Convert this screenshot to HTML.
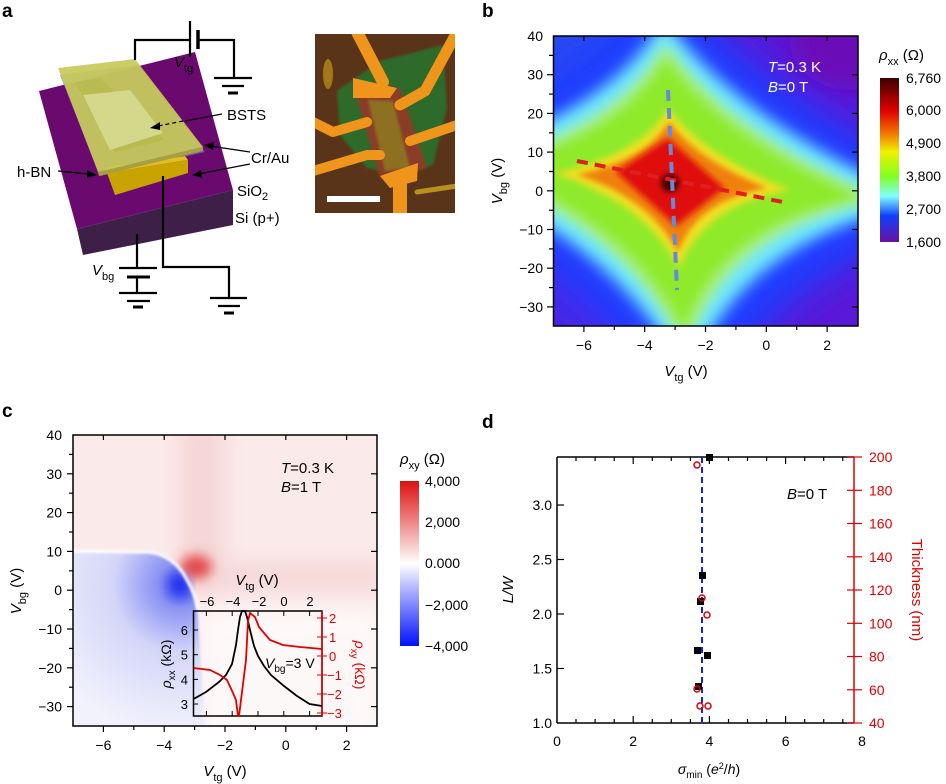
<!DOCTYPE html>
<html><head><meta charset="utf-8"><style>
html,body{margin:0;padding:0;background:#fff;}
svg{display:block;font-family:"Liberation Sans",sans-serif;}
</style></head><body>
<svg width="946" height="784" viewBox="0 0 946 784" xmlns="http://www.w3.org/2000/svg">
<defs>
<filter id="bl" x="-50%" y="-50%" width="200%" height="200%"><feGaussianBlur stdDeviation="6"/></filter>
<filter id="bl2" x="-50%" y="-50%" width="200%" height="200%"><feGaussianBlur stdDeviation="10"/></filter>
<filter id="bl3" x="-50%" y="-50%" width="200%" height="200%"><feGaussianBlur stdDeviation="3"/></filter>
<filter id="bl1" x="-50%" y="-50%" width="200%" height="200%"><feGaussianBlur stdDeviation="1.2"/></filter>
<clipPath id="cb"><rect x="553.5" y="36" width="304.5" height="290"/></clipPath>
<clipPath id="cc"><rect x="73" y="435" width="304" height="291"/></clipPath>
<clipPath id="cp"><rect x="315" y="34" width="140" height="179"/></clipPath>
<linearGradient id="gb" x1="0" y1="0" x2="0" y2="1">
<stop offset="0" stop-color="#3a0000"/><stop offset="0.2" stop-color="#e00000"/><stop offset="0.33" stop-color="#f07000"/><stop offset="0.45" stop-color="#f0f000"/><stop offset="0.6" stop-color="#80ff20"/><stop offset="0.72" stop-color="#80ffff"/><stop offset="0.84" stop-color="#1040ff"/><stop offset="1" stop-color="#6a10a0"/></linearGradient>
<linearGradient id="gc" x1="0" y1="0" x2="0" y2="1">
<stop offset="0" stop-color="#dd1010"/><stop offset="0.5" stop-color="#ffffff"/><stop offset="1" stop-color="#0010ff"/></linearGradient>
<radialGradient id="gblue" cx="180" cy="585" r="150" gradientUnits="userSpaceOnUse">
<stop offset="0" stop-color="#2a3af0"/><stop offset="0.15" stop-color="#8a92f2"/><stop offset="0.45" stop-color="#d4d6f8"/><stop offset="1" stop-color="#f2f2fc"/></radialGradient>
<path id="star" d="M -6,-130 Q 50,-45 190,18 Q 50,45 12,160 Q -45,40 -190,-12 Q -50,-45 -6,-130 Z"/>
</defs>

<!-- ================= Panel a ================= -->
<text x="2" y="17" font-size="19" font-weight="bold">a</text>
<polygon points="77,229 233,190 233,225 83,255" fill="#3e1f48"/>
<polygon points="39,91 195,52 233,190 77,229" fill="#6b0a6e"/>
<polygon points="60,75 137,65 205,152 100,176" fill="#7070d0" opacity="0.7"/>
<polygon points="107,173 188,160 188,173 115,195" fill="#c9a300"/>
<polygon points="107,173 188,160 185,156 105,168" fill="#e0c020"/>
<polygon points="58,68 135,59 203,147 98,172" fill="#c8ca58" opacity="0.92"/>
<polygon points="98,172 203,147 203,151 99,176" fill="#a8a040"/>
<polygon points="75,82 100,78 165,140 115,152 95,120" fill="#b8bb50"/>
<polygon points="83,95 130,90 163,133 110,150" fill="#d4d88a"/>
<g stroke="#000" stroke-width="2.2" fill="none">
<polyline points="135,60 135,40 189,40"/>
<line x1="190" y1="21" x2="190" y2="57"/>
<line x1="198" y1="30" x2="198" y2="49" stroke-width="3.5"/>
<polyline points="198,40 234,40 234,78"/>
<line x1="214" y1="78" x2="252" y2="78"/><line x1="222" y1="86" x2="244" y2="86"/><line x1="228" y1="93" x2="238" y2="93" stroke-width="3"/>
<line x1="137" y1="234" x2="137" y2="268"/>
<line x1="119" y1="268" x2="157" y2="268"/><line x1="127" y1="277" x2="150" y2="277" stroke-width="3"/>
<line x1="137" y1="277" x2="137" y2="293"/>
<line x1="119" y1="293" x2="157" y2="293"/><line x1="127" y1="301" x2="150" y2="301"/><line x1="133" y1="307" x2="143" y2="307" stroke-width="3"/>
<polyline points="163,176 163,267 229,267 229,298"/>
<line x1="210" y1="298" x2="247" y2="298"/><line x1="218" y1="306" x2="240" y2="306"/><line x1="224" y1="313" x2="234" y2="313" stroke-width="3"/>
<line x1="222" y1="114" x2="185" y2="121" stroke-width="1.2"/>
<line x1="183" y1="121" x2="158" y2="126" stroke-width="1.2" stroke-dasharray="4,3"/>
<line x1="250" y1="152" x2="210" y2="146" stroke-width="1.2"/>
<line x1="250" y1="164" x2="198" y2="174" stroke-width="1.2"/>
<line x1="58" y1="171" x2="88" y2="174" stroke-width="1.2"/>
</g>
<g fill="#000">
<polygon points="150,128 160,122 160,130"/>
<polygon points="204,145 214,142 213,150"/>
<polygon points="192,175 201,170 202,178"/>
<polygon points="97,175 87,170 87,178"/>
</g>
<g font-size="15">
<text x="174" y="67" font-style="italic">V<tspan font-size="11" dy="5" font-style="normal">tg</tspan></text>
<text x="227" y="120">BSTS</text>
<text x="251" y="163">Cr/Au</text>
<text x="17" y="177">h-BN</text>
<text x="237" y="196">SiO<tspan font-size="11" dy="4">2</tspan></text>
<text x="235" y="223">Si (p+)</text>
<text x="92" y="275" font-style="italic">V<tspan font-size="11" dy="5" font-style="normal">bg</tspan></text>
</g>
<g clip-path="url(#cp)">
<g transform="translate(315,34)">
<rect width="140" height="179" fill="#5a3418"/>
<polygon points="65,27 128,11 132,74 118,131 85,141 52,134 25,101 22,57" fill="#2f6a2c" filter="url(#bl1)"/>
<polygon points="38,51 85,54 112,134 65,144" fill="#8a3c28" filter="url(#bl1)"/>
<polygon points="53,66 78,67 95,134 70,137" fill="#8e7020" filter="url(#bl1)"/>
<ellipse cx="13" cy="40" rx="5" ry="15" fill="#a07818"/>
<g stroke="#f0951c" fill="none" stroke-linecap="round" stroke-linejoin="round">
<polyline points="42,-2 68,48" stroke-width="12"/>
<polyline points="142,-2 110,57 85,71" stroke-width="11"/>
<polyline points="-2,88 18,98 52,88" stroke-width="10"/>
<polyline points="95,107 142,91" stroke-width="10"/>
<polyline points="-2,137 52,121 65,121" stroke-width="10"/>
<polyline points="85,147 85,182" stroke-width="14"/>
<polyline points="102,158 142,152" stroke-width="5" stroke="#b89020"/>
</g>
<polygon points="38,44 82,54 75,64 38,64" fill="#f0951c"/>
<polygon points="65,142 103,129 102,147 75,154" fill="#f0951c"/>
<rect x="12" y="162" width="53" height="6" fill="#fff"/>
</g>
</g>

<!-- ================= Panel b ================= -->
<text x="482" y="17" font-size="19" font-weight="bold">b</text>
<g clip-path="url(#cb)">
<rect x="553.5" y="36" width="305" height="290" fill="#5a18d8"/>
<ellipse cx="590" cy="70" rx="90" ry="70" fill="#2c48f0" filter="url(#bl2)"/>
<ellipse cx="590" cy="300" rx="60" ry="40" fill="#4a28e8" filter="url(#bl2)"/>
<ellipse cx="850" cy="40" rx="60" ry="50" fill="#6a10b8" filter="url(#bl2)"/>
<g transform="translate(672,180)">
<use href="#star" transform="scale(1.8,1.65)" fill="#1a3cff" filter="url(#bl2)"/>
<use href="#star" transform="scale(1.35,1.25)" fill="#70e8ff" filter="url(#bl)"/>
<use href="#star" transform="scale(1.12,1.06)" fill="#a8f090" filter="url(#bl)"/>
<use href="#star" transform="scale(1.0,0.95)" fill="#8eea2a" filter="url(#bl)"/>
<use href="#star" transform="scale(0.62,0.55)" fill="#f0e020" filter="url(#bl)"/>
<use href="#star" transform="scale(0.5,0.45)" fill="#f08010" filter="url(#bl)"/>
<polygon points="-4,-42 52,8 4,46 -56,-8" fill="#e01010" filter="url(#bl3)"/>
<ellipse cx="-2" cy="3" rx="9" ry="9" fill="#400000" filter="url(#bl3)"/>
</g>
</g>
<line x1="577" y1="161" x2="783" y2="202" stroke="#e02020" stroke-width="4" stroke-dasharray="11,7"/>
<line x1="668" y1="90" x2="677" y2="290" stroke="#6a88d8" stroke-width="4" stroke-dasharray="11,7"/>
<rect x="553.5" y="36" width="304.5" height="290" fill="none" stroke="#000" stroke-width="1.5"/>
<g stroke="#000" stroke-width="1.2">
<line x1="583.9" y1="326" x2="583.9" y2="332"/><line x1="644.7" y1="326" x2="644.7" y2="332"/><line x1="705.5" y1="326" x2="705.5" y2="332"/><line x1="766.3" y1="326" x2="766.3" y2="332"/><line x1="827.1" y1="326" x2="827.1" y2="332"/>
<line x1="614.3" y1="326" x2="614.3" y2="330"/><line x1="675.1" y1="326" x2="675.1" y2="330"/><line x1="735.9" y1="326" x2="735.9" y2="330"/><line x1="796.7" y1="326" x2="796.7" y2="330"/>
<line x1="583.9" y1="36" x2="583.9" y2="41"/><line x1="644.7" y1="36" x2="644.7" y2="41"/><line x1="705.5" y1="36" x2="705.5" y2="41"/><line x1="766.3" y1="36" x2="766.3" y2="41"/><line x1="827.1" y1="36" x2="827.1" y2="41"/>
<line x1="547" y1="74.7" x2="553.5" y2="74.7"/><line x1="547" y1="113.4" x2="553.5" y2="113.4"/><line x1="547" y1="152.1" x2="553.5" y2="152.1"/><line x1="547" y1="190.8" x2="553.5" y2="190.8"/><line x1="547" y1="229.5" x2="553.5" y2="229.5"/><line x1="547" y1="268.2" x2="553.5" y2="268.2"/><line x1="547" y1="306.9" x2="553.5" y2="306.9"/>
<line x1="549" y1="55.4" x2="553.5" y2="55.4"/><line x1="549" y1="94.1" x2="553.5" y2="94.1"/><line x1="549" y1="132.8" x2="553.5" y2="132.8"/><line x1="549" y1="171.5" x2="553.5" y2="171.5"/><line x1="549" y1="210.2" x2="553.5" y2="210.2"/><line x1="549" y1="248.9" x2="553.5" y2="248.9"/><line x1="549" y1="287.6" x2="553.5" y2="287.6"/>
<line x1="852" y1="74.7" x2="858" y2="74.7"/><line x1="852" y1="113.4" x2="858" y2="113.4"/><line x1="852" y1="152.1" x2="858" y2="152.1"/><line x1="852" y1="190.8" x2="858" y2="190.8"/><line x1="852" y1="229.5" x2="858" y2="229.5"/><line x1="852" y1="268.2" x2="858" y2="268.2"/><line x1="852" y1="306.9" x2="858" y2="306.9"/>
</g>
<g font-size="14" text-anchor="middle">
<text x="583.9" y="350">−6</text><text x="644.7" y="350">−4</text><text x="705.5" y="350">−2</text><text x="766.3" y="350">0</text><text x="827.1" y="350">2</text>
</g>
<g font-size="14" text-anchor="end">
<text x="543" y="41">40</text><text x="543" y="79.7">30</text><text x="543" y="118.4">20</text><text x="543" y="157.1">10</text><text x="543" y="195.8">0</text><text x="543" y="234.5">−10</text><text x="543" y="273.2">−20</text><text x="543" y="311.9">−30</text>
</g>
<text x="686" y="376" font-size="15" text-anchor="middle"><tspan font-style="italic">V</tspan><tspan font-size="11" dy="5">tg</tspan><tspan dy="-5"> (V)</tspan></text>
<text transform="translate(502,181) rotate(-90)" font-size="15" text-anchor="middle"><tspan font-style="italic">V</tspan><tspan font-size="11" dy="5">bg</tspan><tspan dy="-5"> (V)</tspan></text>
<g font-size="15" fill="#fff"><text x="768" y="72"><tspan font-style="italic">T</tspan>=0.3 K</text><text x="768" y="92"><tspan font-style="italic">B</tspan>=0 T</text></g>
<rect x="880" y="78" width="19" height="164" fill="url(#gb)"/>
<text x="879" y="60" font-size="15"><tspan font-style="italic">ρ</tspan><tspan font-size="11" dy="5">xx</tspan><tspan dy="-5"> (Ω)</tspan></text>
<g font-size="14"><text x="906" y="83">6,760</text><text x="906" y="115">6,000</text><text x="906" y="148">4,900</text><text x="906" y="181">3,800</text><text x="906" y="214">2,700</text><text x="906" y="247">1,600</text></g>

<!-- ================= Panel c ================= -->
<text x="2" y="417" font-size="19" font-weight="bold">c</text>
<g clip-path="url(#cc)">
<rect x="73" y="435" width="304" height="291" fill="#fbeaea"/>
<rect x="200" y="610" width="180" height="130" fill="#fff" opacity="0.7" filter="url(#bl2)"/>
<rect x="180" y="420" width="45" height="170" fill="#f6d6d6" filter="url(#bl2)"/>
<rect x="195" y="562" width="190" height="28" fill="#f6d8d8" filter="url(#bl2)"/>
<ellipse cx="196" cy="567" rx="16" ry="12" fill="#e24a4a" filter="url(#bl)"/>
<path d="M 73,551 L 150,552 Q 175,556 187,580 Q 196,595 198,620 L 205,730 L 73,730 Z" fill="url(#gblue)" filter="url(#bl1)"/>
<ellipse cx="180" cy="585" rx="8" ry="10" fill="#2030f0" filter="url(#bl)"/>
<path d="M 73,551 L 150,552 Q 175,556 187,580 Q 196,595 198,610" fill="none" stroke="#fff" stroke-width="3" filter="url(#bl1)"/>
</g>
<rect x="73" y="435" width="304" height="291" fill="none" stroke="#000" stroke-width="1.5"/>
<g stroke="#000" stroke-width="1.2">
<line x1="103.4" y1="726" x2="103.4" y2="732"/><line x1="164.2" y1="726" x2="164.2" y2="732"/><line x1="225" y1="726" x2="225" y2="732"/><line x1="285.8" y1="726" x2="285.8" y2="732"/><line x1="346.6" y1="726" x2="346.6" y2="732"/>
<line x1="133.8" y1="726" x2="133.8" y2="730"/><line x1="194.6" y1="726" x2="194.6" y2="730"/><line x1="255.4" y1="726" x2="255.4" y2="730"/><line x1="316.2" y1="726" x2="316.2" y2="730"/>
<line x1="103.4" y1="435" x2="103.4" y2="440"/><line x1="164.2" y1="435" x2="164.2" y2="440"/><line x1="225" y1="435" x2="225" y2="440"/><line x1="285.8" y1="435" x2="285.8" y2="440"/><line x1="346.6" y1="435" x2="346.6" y2="440"/>
<line x1="67" y1="473.8" x2="73" y2="473.8"/><line x1="67" y1="512.6" x2="73" y2="512.6"/><line x1="67" y1="551.4" x2="73" y2="551.4"/><line x1="67" y1="590.2" x2="73" y2="590.2"/><line x1="67" y1="629" x2="73" y2="629"/><line x1="67" y1="667.8" x2="73" y2="667.8"/><line x1="67" y1="706.6" x2="73" y2="706.6"/>
<line x1="69" y1="454.4" x2="73" y2="454.4"/><line x1="69" y1="493.2" x2="73" y2="493.2"/><line x1="69" y1="532" x2="73" y2="532"/><line x1="69" y1="570.8" x2="73" y2="570.8"/><line x1="69" y1="609.6" x2="73" y2="609.6"/><line x1="69" y1="648.4" x2="73" y2="648.4"/><line x1="69" y1="687.2" x2="73" y2="687.2"/>
<line x1="371" y1="473.8" x2="377" y2="473.8"/><line x1="371" y1="512.6" x2="377" y2="512.6"/><line x1="371" y1="551.4" x2="377" y2="551.4"/><line x1="371" y1="590.2" x2="377" y2="590.2"/><line x1="371" y1="629" x2="377" y2="629"/><line x1="371" y1="667.8" x2="377" y2="667.8"/><line x1="371" y1="706.6" x2="377" y2="706.6"/>
</g>
<g font-size="14" text-anchor="middle">
<text x="103.4" y="750">−6</text><text x="164.2" y="750">−4</text><text x="225" y="750">−2</text><text x="285.8" y="750">0</text><text x="346.6" y="750">2</text>
</g>
<g font-size="14" text-anchor="end">
<text x="62" y="440">40</text><text x="62" y="478.8">30</text><text x="62" y="517.6">20</text><text x="62" y="556.4">10</text><text x="62" y="595.2">0</text><text x="62" y="634">−10</text><text x="62" y="672.8">−20</text><text x="62" y="711.6">−30</text>
</g>
<text x="225" y="776" font-size="15" text-anchor="middle"><tspan font-style="italic">V</tspan><tspan font-size="11" dy="5">tg</tspan><tspan dy="-5"> (V)</tspan></text>
<text transform="translate(21,591) rotate(-90)" font-size="15" text-anchor="middle"><tspan font-style="italic">V</tspan><tspan font-size="11" dy="5">bg</tspan><tspan dy="-5"> (V)</tspan></text>
<g font-size="15"><text x="281" y="473"><tspan font-style="italic">T</tspan>=0.3 K</text><text x="281" y="492"><tspan font-style="italic">B</tspan>=1 T</text></g>
<rect x="400" y="481" width="19" height="165" fill="url(#gc)"/>
<text x="400" y="464" font-size="15"><tspan font-style="italic">ρ</tspan><tspan font-size="11" dy="5">xy</tspan><tspan dy="-5"> (Ω)</tspan></text>
<g font-size="14"><text x="425" y="486">4,000</text><text x="425" y="527">2,000</text><text x="425" y="568">0.000</text><text x="425" y="610">−2,000</text><text x="425" y="651">−4,000</text></g>
<rect x="193.5" y="611" width="128.5" height="105" fill="none" stroke="#000" stroke-width="1.5"/>
<g stroke="#000" stroke-width="1">
<line x1="206.4" y1="611" x2="206.4" y2="616"/><line x1="232.2" y1="611" x2="232.2" y2="616"/><line x1="258" y1="611" x2="258" y2="616"/><line x1="283.8" y1="611" x2="283.8" y2="616"/><line x1="309.6" y1="611" x2="309.6" y2="616"/>
<line x1="206.4" y1="716" x2="206.4" y2="711"/><line x1="232.2" y1="716" x2="232.2" y2="711"/><line x1="258" y1="716" x2="258" y2="711"/><line x1="283.8" y1="716" x2="283.8" y2="711"/><line x1="309.6" y1="716" x2="309.6" y2="711"/>
<line x1="193.5" y1="630" x2="198" y2="630"/><line x1="193.5" y1="654.7" x2="198" y2="654.7"/><line x1="193.5" y1="679.4" x2="198" y2="679.4"/><line x1="193.5" y1="704" x2="198" y2="704"/>
</g>
<line x1="322" y1="611" x2="322" y2="716" stroke="#e00000" stroke-width="1.5"/>
<g stroke="#e00000" stroke-width="1">
<line x1="317" y1="618" x2="327" y2="618"/><line x1="317" y1="637" x2="327" y2="637"/><line x1="317" y1="656" x2="327" y2="656"/><line x1="317" y1="675" x2="327" y2="675"/><line x1="317" y1="694" x2="327" y2="694"/><line x1="317" y1="713" x2="327" y2="713"/>
</g>
<polyline fill="none" stroke="#000" stroke-width="1.8" points="193.5,699 206,692 219,682 226,675 232,664 236,645 238,630 240,617 242,611 245,611 247,617 250,630 254,646 258,656 264,666 271,675 284,686 297,696 309.6,704 322,706"/>
<polyline fill="none" stroke="#e00000" stroke-width="1.8" points="193.5,668 210,670 220,675 227,680 233,693 236,700 238,716 239,716 241,700 246,660 248,621 250,613 255,617 259,627 264,633 270,640 283,645 300,647 322,649"/>
<g font-size="13" text-anchor="middle">
<text x="207" y="606">−6</text><text x="233" y="606">−4</text><text x="259" y="606">−2</text><text x="284" y="606">0</text><text x="310" y="606">2</text>
</g>
<text x="257" y="585" font-size="15" text-anchor="middle"><tspan font-style="italic">V</tspan><tspan font-size="11" dy="5">tg</tspan><tspan dy="-5"> (V)</tspan></text>
<g font-size="13" text-anchor="end"><text x="188" y="635">6</text><text x="188" y="659.7">5</text><text x="188" y="684.4">4</text><text x="188" y="709">3</text></g>
<g font-size="13" fill="#e00000"><text x="329" y="623">2</text><text x="329" y="642">1</text><text x="329" y="661">0</text><text x="327" y="680">−1</text><text x="327" y="699">−2</text><text x="327" y="718">−3</text></g>
<text transform="translate(171,664) rotate(-90)" font-size="14" text-anchor="middle"><tspan font-style="italic">ρ</tspan><tspan font-size="10" dy="4">xx</tspan><tspan dy="-4"> (kΩ)</tspan></text>
<text transform="translate(355,665) rotate(90)" font-size="14" text-anchor="middle" fill="#e00000"><tspan font-style="italic">ρ</tspan><tspan font-size="10" dy="4">xy</tspan><tspan dy="-4"> (kΩ)</tspan></text>
<text x="265" y="668" font-size="14"><tspan font-style="italic">V</tspan><tspan font-size="10" dy="4">bg</tspan><tspan dy="-4">=3 V</tspan></text>

<!-- ================= Panel d ================= -->
<text x="482" y="428" font-size="19" font-weight="bold">d</text>
<g stroke="#000" stroke-width="1.5" fill="none">
<line x1="557" y1="457" x2="854" y2="457"/><line x1="557" y1="723" x2="854" y2="723"/><line x1="557" y1="457" x2="557" y2="723"/>
</g>
<line x1="854" y1="457" x2="854" y2="723" stroke="#e00000" stroke-width="1.5"/>
<g stroke="#000" stroke-width="1.2">
<line x1="633.2" y1="723" x2="633.2" y2="716"/><line x1="709.4" y1="723" x2="709.4" y2="716"/><line x1="785.6" y1="723" x2="785.6" y2="716"/>
<line x1="576" y1="723" x2="576" y2="719"/><line x1="595.1" y1="723" x2="595.1" y2="719"/><line x1="614.2" y1="723" x2="614.2" y2="719"/><line x1="652.3" y1="723" x2="652.3" y2="719"/><line x1="671.3" y1="723" x2="671.3" y2="719"/><line x1="690.4" y1="723" x2="690.4" y2="719"/><line x1="728.5" y1="723" x2="728.5" y2="719"/><line x1="747.5" y1="723" x2="747.5" y2="719"/><line x1="766.6" y1="723" x2="766.6" y2="719"/><line x1="804.7" y1="723" x2="804.7" y2="719"/><line x1="823.7" y1="723" x2="823.7" y2="719"/><line x1="842.8" y1="723" x2="842.8" y2="719"/>
<line x1="633.2" y1="457" x2="633.2" y2="464"/><line x1="709.4" y1="457" x2="709.4" y2="464"/><line x1="785.6" y1="457" x2="785.6" y2="464"/>
<line x1="576" y1="457" x2="576" y2="461"/><line x1="595.1" y1="457" x2="595.1" y2="461"/><line x1="614.2" y1="457" x2="614.2" y2="461"/><line x1="652.3" y1="457" x2="652.3" y2="461"/><line x1="671.3" y1="457" x2="671.3" y2="461"/><line x1="690.4" y1="457" x2="690.4" y2="461"/><line x1="728.5" y1="457" x2="728.5" y2="461"/><line x1="747.5" y1="457" x2="747.5" y2="461"/><line x1="766.6" y1="457" x2="766.6" y2="461"/><line x1="804.7" y1="457" x2="804.7" y2="461"/><line x1="823.7" y1="457" x2="823.7" y2="461"/><line x1="842.8" y1="457" x2="842.8" y2="461"/>
<line x1="557" y1="668.5" x2="564" y2="668.5"/><line x1="557" y1="614" x2="564" y2="614"/><line x1="557" y1="559.5" x2="564" y2="559.5"/><line x1="557" y1="505" x2="564" y2="505"/>
</g>
<g stroke="#e00000" stroke-width="1.2">
<line x1="847" y1="457" x2="862" y2="457"/><line x1="847" y1="490.3" x2="862" y2="490.3"/><line x1="847" y1="523.5" x2="862" y2="523.5"/><line x1="847" y1="556.8" x2="862" y2="556.8"/><line x1="847" y1="590" x2="862" y2="590"/><line x1="847" y1="623.3" x2="862" y2="623.3"/><line x1="847" y1="656.5" x2="862" y2="656.5"/><line x1="847" y1="689.8" x2="862" y2="689.8"/><line x1="847" y1="723" x2="862" y2="723"/>
</g>
<g font-size="14" text-anchor="middle">
<text x="557" y="746">0</text><text x="633.2" y="746">2</text><text x="709.4" y="746">4</text><text x="785.6" y="746">6</text><text x="862" y="746">8</text>
</g>
<g font-size="14" text-anchor="end">
<text x="552" y="728">1.0</text><text x="552" y="673.5">1.5</text><text x="552" y="619">2.0</text><text x="552" y="564.5">2.5</text><text x="552" y="510">3.0</text>
</g>
<g font-size="14" fill="#e00000">
<text x="869" y="462">200</text><text x="869" y="495.3">180</text><text x="869" y="528.5">160</text><text x="869" y="561.8">140</text><text x="869" y="595">120</text><text x="869" y="628.3">100</text><text x="869" y="661.5">80</text><text x="869" y="694.8">60</text><text x="869" y="728">40</text>
</g>
<text transform="translate(912,590) rotate(90)" font-size="15" text-anchor="middle" fill="#e00000">Thickness (nm)</text>
<text transform="translate(513,590) rotate(-90)" font-size="15" text-anchor="middle" font-style="italic">L/W</text>
<text x="709" y="774" font-size="14" text-anchor="middle"><tspan font-style="italic">σ</tspan><tspan font-size="10" dy="4">min</tspan><tspan dy="-4"> (</tspan><tspan font-style="italic">e</tspan><tspan font-size="9" dy="-5">2</tspan><tspan dy="5">/</tspan><tspan font-style="italic">h</tspan>)</text>
<text x="787" y="499" font-size="15"><tspan font-style="italic">B</tspan>=0 T</text>
<line x1="702" y1="457" x2="702" y2="723" stroke="#1020ee" stroke-width="2" stroke-dasharray="6,4"/>
<g fill="#000">
<rect x="706" y="454" width="7" height="7"/><rect x="699" y="572" width="7" height="7"/><rect x="697" y="598" width="7" height="7"/><rect x="694" y="647" width="7" height="7"/><rect x="704" y="652" width="7" height="7"/><rect x="695" y="683" width="7" height="7"/>
</g>
<g fill="none" stroke="#e00000" stroke-width="1.5">
<circle cx="697" cy="465" r="3"/><circle cx="702" cy="598" r="3"/><circle cx="707" cy="615" r="3"/><circle cx="697" cy="689" r="3"/><circle cx="700" cy="706" r="3"/><circle cx="708" cy="706" r="3"/>
</g>
</svg>
</body></html>
